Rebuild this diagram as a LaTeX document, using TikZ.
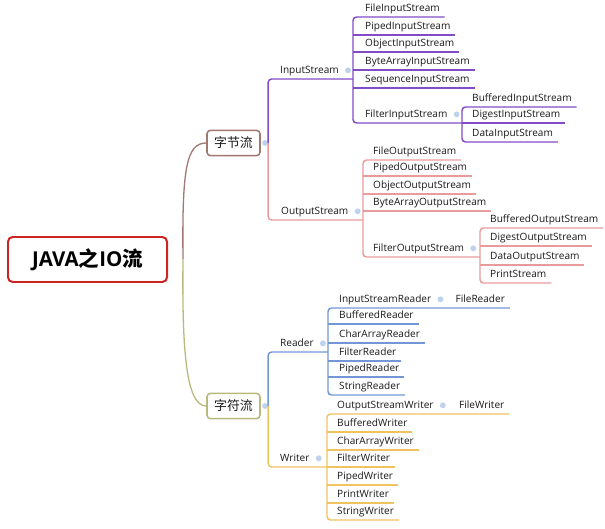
\documentclass[tikz,border=0pt]{standalone}
\usepackage{fontspec}
\setmainfont{Open Sans}
\newfontfamily\cjk{Noto Sans CJK SC}
\usetikzlibrary{positioning}

\begin{document}
\begin{tikzpicture}[x=0.03cm, y=-0.03cm,
  leaf/.style={anchor=south west, inner xsep=0pt, inner ysep=2.2pt, text height=0.75em, text depth=0.25em, font=\fontsize{8.6}{10}\selectfont, text=black!90},
  dot/.style={circle, fill=dotblue, inner sep=0pt, minimum size=5pt},
  branch/.style={line width=1.25pt, rounded corners=3pt},
  twig/.style={line width=1.25pt},
  mid/.style={draw, rounded corners=3pt, line width=1.3pt, minimum width=1.59cm, minimum height=0.76cm, font=\cjk\fontsize{11}{12}\selectfont, text=black!90}]

% Define colours
\definecolor{rootred}{RGB}{205,35,35}
\definecolor{bytebrown}{RGB}{160,120,112}
\definecolor{charolive}{RGB}{185,185,125}
\definecolor{inpurple}{RGB}{130,75,200}
\definecolor{outsalmon}{RGB}{232,155,155}
\definecolor{readblue}{RGB}{115,150,215}
\definecolor{writeorange}{RGB}{240,195,95}
\definecolor{dotblue}{RGB}{190,210,238}

\useasboundingbox (0,0) rectangle (605,529);

% Draw root
\node[draw=rootred, line width=1.7pt, rounded corners=4pt, minimum width=4.77cm, minimum height=1.35cm, font=\fontsize{17.5}{19}\selectfont] (root) at (87.5,259.5) {\bfseries JAVA{\cjk\bfseries 之}IO{\cjk\bfseries 流}};

% Draw the two main nodes
\node[mid, draw=bytebrown] (bytes) at (233.5,143) {字节流};
\node[mid, draw=charolive] (chars) at (233.5,406) {字符流};
\node[dot] (bytesDot) at (265,143) {};
\node[dot] (charsDot) at (265,406) {};

% Draw curves from root
\coordinate (fork) at ([xshift=12.8pt]root.east);
\draw[bytebrown, line width=1.1pt] (fork) .. controls (182,170) and (186,143) .. (bytes.west);
\draw[charolive, line width=1.1pt] (fork) .. controls (182,350) and (186,406) .. (chars.west);

% InputStream branch
\node[leaf] (inStream) at (280,79) {InputStream};
\node[dot, right=5pt of inStream] (inDot) {};
\draw[inpurple, branch] (bytesDot.east) |- (353,79);
\foreach \nm/\txt/\uy in {fileIn/FileInputStream/17, pipedIn/PipedInputStream/35, objectIn/ObjectInputStream/52, byteIn/ByteArrayInputStream/70, seqIn/SequenceInputStream/88, filterIn/FilterInputStream/123}
  \node[leaf] (\nm) at (365,\uy) {\txt};
\draw[inpurple, branch] ([xshift=4pt]fileIn.south east) -- (353,17) -- (353,123) -- (462,123);
\foreach \nm/\uy in {pipedIn/35, objectIn/52, byteIn/70, seqIn/88}
  \draw[inpurple, twig] (353,\uy) -- ([xshift=4pt]\nm.south east);
\node[dot, right=5pt of filterIn] (filterInDot) {};
\foreach \nm/\txt/\uy in {bufIn/BufferedInputStream/107, digestIn/DigestInputStream/123, dataIn/DataInputStream/142}
  \node[leaf] (\nm) at (472,\uy) {\txt};
\draw[inpurple, branch] ([xshift=4pt]bufIn.south east) -- (462,107) -- (462,142) -- ([xshift=4pt]dataIn.south east);
\draw[inpurple, twig] (462,123) -- ([xshift=4pt]digestIn.south east);

% OutputStream branch
\node[leaf] (outStream) at (281,220) {OutputStream};
\node[dot, right=5pt of outStream] (outDot) {};
\draw[outsalmon, branch] (bytesDot.east) |- (363,220);
\foreach \nm/\txt/\uy in {fileOut/FileOutputStream/160, pipedOut/PipedOutputStream/176, objectOut/ObjectOutputStream/194, byteOut/ByteArrayOutputStream/211, filterOut/FilterOutputStream/257}
  \node[leaf] (\nm) at (373,\uy) {\txt};
\draw[outsalmon, branch] ([xshift=4pt]fileOut.south east) -- (363,160) -- (363,257) -- (480,257);
\foreach \nm/\uy in {pipedOut/176, objectOut/194, byteOut/211}
  \draw[outsalmon, twig] (363,\uy) -- ([xshift=4pt]\nm.south east);
\node[dot, right=5pt of filterOut] (filterOutDot) {};
\foreach \nm/\txt/\uy in {bufOut/BufferedOutputStream/228, digestOut/DigestOutputStream/246, dataOut/DataOutputStream/265, printOut/PrintStream/283}
  \node[leaf] (\nm) at (490,\uy) {\txt};
\draw[outsalmon, branch] ([xshift=4pt]bufOut.south east) -- (480,228) -- (480,283) -- ([xshift=4pt]printOut.south east);
\foreach \nm/\uy in {digestOut/246, dataOut/265}
  \draw[outsalmon, twig] (480,\uy) -- ([xshift=4pt]\nm.south east);

% Reader branch
\node[leaf] (reader) at (280,352) {Reader};
\node[dot, right=5pt of reader] (readerDot) {};
\draw[readblue, branch] (charsDot.east) |- (328,352);
\foreach \nm/\txt/\uy in {isReader/InputStreamReader/308, bufReader/BufferedReader/324, caReader/CharArrayReader/343, filterReader/FilterReader/361, pipedReader/PipedReader/377, strReader/StringReader/395}
  \node[leaf] (\nm) at (339,\uy) {\txt};
\node[dot, right=5pt of isReader] (isReaderDot) {};
\node[leaf, right=10pt of isReaderDot] (fileReader) {FileReader};
\draw[readblue, branch] ([xshift=4pt]fileReader.south east) -- (328,308) -- (328,395) -- ([xshift=4pt]strReader.south east);
\foreach \nm/\uy in {bufReader/324, caReader/343, filterReader/361, pipedReader/377}
  \draw[readblue, twig] (328,\uy) -- ([xshift=4pt]\nm.south east);

% Writer branch
\node[leaf] (writer) at (280,467) {Writer};
\node[dot, right=5pt of writer] (writerDot) {};
\draw[writeorange, branch] (charsDot.east) |- (327,467);
\foreach \nm/\txt/\uy in {oswWriter/OutputStreamWriter/414, bufWriter/BufferedWriter/432, caWriter/CharArrayWriter/450, filterWriter/FilterWriter/467, pipedWriter/PipedWriter/485, printWriter/PrintWriter/503, strWriter/StringWriter/520}
  \node[leaf] (\nm) at (337,\uy) {\txt};
\node[dot, right=5pt of oswWriter] (oswWriterDot) {};
\node[leaf, right=11pt of oswWriterDot] (fileWriter) {FileWriter};
\draw[writeorange, branch] ([xshift=4pt]fileWriter.south east) -- (327,414) -- (327,520) -- ([xshift=4pt]strWriter.south east);
\foreach \nm/\uy in {bufWriter/432, caWriter/450, filterWriter/467, pipedWriter/485, printWriter/503}
  \draw[writeorange, twig] (327,\uy) -- ([xshift=4pt]\nm.south east);

\end{tikzpicture}
\end{document}
